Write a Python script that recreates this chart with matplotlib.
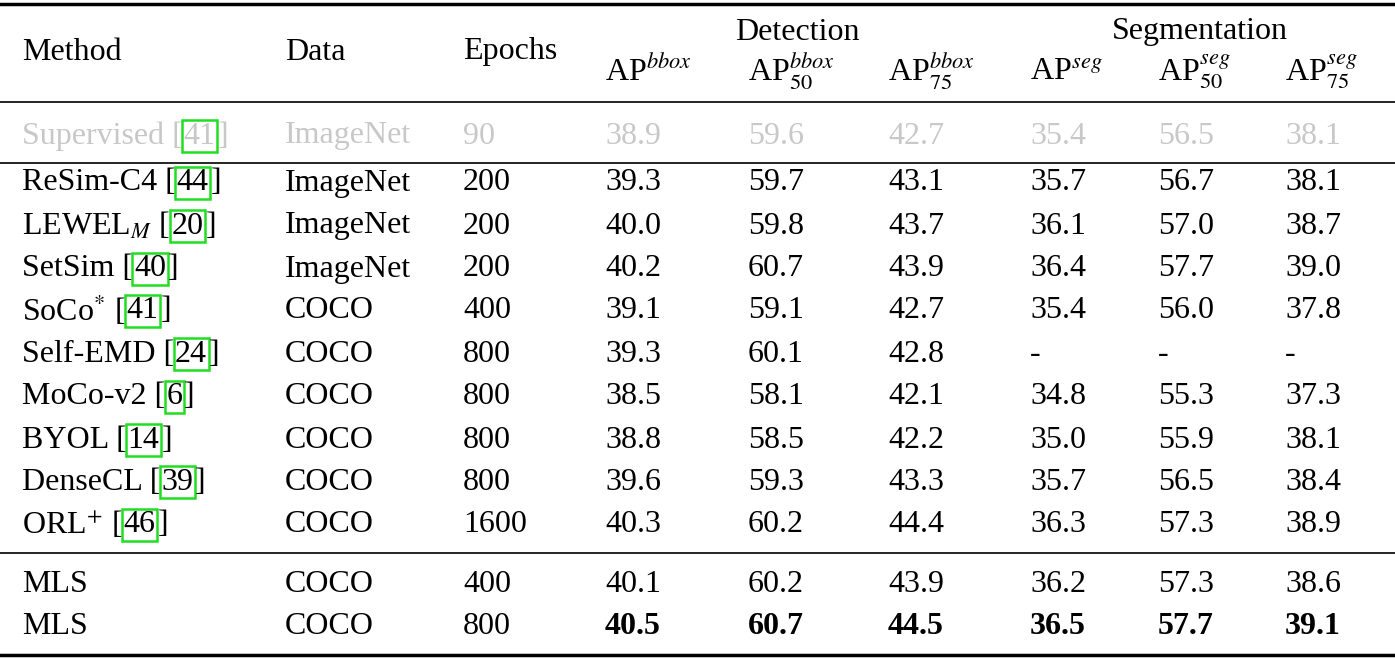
import matplotlib
matplotlib.use("Agg")
import matplotlib.pyplot as plt

plt.rcParams['font.family'] = ['Liberation Serif', 'DejaVu Serif']
plt.rcParams['mathtext.fontset'] = 'stix'

methods = [("Supervised", "", "41"), ("ReSim-C4", "", "44"), ("LEWEL", "$_{M}$", "20"),
           ("SetSim", "", "40"), ("SoCo", "$^{*}$", "41"), ("Self-EMD", "", "24"),
           ("MoCo-v2", "", "6"), ("BYOL", "", "14"), ("DenseCL", "", "39"),
           ("ORL", "$^{+}$", "46"), ("MLS", "", None), ("MLS", "", None)]
data = ["ImageNet", "ImageNet", "ImageNet", "ImageNet", "COCO", "COCO", "COCO", "COCO",
        "COCO", "COCO", "COCO", "COCO"]
epochs = ["90", "200", "200", "200", "400", "800", "800", "800", "800", "1600", "400", "800"]
values = [
    ["38.9", "59.6", "42.7", "35.4", "56.5", "38.1"],
    ["39.3", "59.7", "43.1", "35.7", "56.7", "38.1"],
    ["40.0", "59.8", "43.7", "36.1", "57.0", "38.7"],
    ["40.2", "60.7", "43.9", "36.4", "57.7", "39.0"],
    ["39.1", "59.1", "42.7", "35.4", "56.0", "37.8"],
    ["39.3", "60.1", "42.8", "-", "-", "-"],
    ["38.5", "58.1", "42.1", "34.8", "55.3", "37.3"],
    ["38.8", "58.5", "42.2", "35.0", "55.9", "38.1"],
    ["39.6", "59.3", "43.3", "35.7", "56.5", "38.4"],
    ["40.3", "60.2", "44.4", "36.3", "57.3", "38.9"],
    ["40.1", "60.2", "43.9", "36.2", "57.3", "38.6"],
    ["40.5", "60.7", "44.5", "36.5", "57.7", "39.1"],
]
ap_headers = [r"AP$^{bbox}$", r"AP$^{bbox}_{50}$", r"AP$^{bbox}_{75}$",
              r"AP$^{seg}$", r"AP$^{seg}_{50}$", r"AP$^{seg}_{75}$"]

W, H = 1395, 659
fig = plt.figure(figsize=(W/100, H/100), dpi=100)
ax = fig.add_axes([0, 0, 1, 1])
ax.set_xlim(0, W); ax.set_ylim(H, 0); ax.axis('off')
fs = 23
colx = [22, 285, 463, 605, 748, 888, 1030, 1158, 1285]
rowy = [136, 183, 226, 269, 311, 354, 397, 440, 482, 525, 585, 627]

for y, lw in [(4, 2.5), (102, 1.2), (163, 1.2), (553, 1.2), (655, 2.5)]:
    ax.plot([0, W], [y, y], color='black', lw=lw)

ax.text(797, 32, "Detection", fontsize=fs, ha='center', va='center')
ax.text(1200, 32, "Segmentation", fontsize=fs, ha='center', va='center')
for x, t in zip(colx[:3], ["Method", "Data", "Epochs"]):
    ax.text(x, 52, t, fontsize=fs, va='center')
for x, t in zip(colx[3:], ap_headers):
    ax.text(x, 72, t, fontsize=fs, va='center')

fig.canvas.draw()
r = fig.canvas.get_renderer()
inv = ax.transData.inverted()

def width(t):
    bb = t.get_window_extent(renderer=r)
    (x0, _), (x1, _) = inv.transform([[bb.x0, bb.y0], [bb.x1, bb.y1]])
    return x1 - x0

for i, (m, suf, cite) in enumerate(methods):
    y = rowy[i]
    col = '#c8c8c8' if i == 0 else 'black'
    bold = 'bold' if i == 11 else 'normal'
    s = m + suf + (" [" if cite else "")
    t = ax.text(colx[0], y, s, fontsize=fs, va='center', color=col)
    if cite:
        x = colx[0] + width(t)
        t2 = ax.text(x + 1, y, cite, fontsize=fs, va='center', color=col,
                     bbox=dict(boxstyle='square,pad=0.05', fc='none', ec='#22dd22', lw=1.8))
        x += width(t2) + 3
        ax.text(x, y, "]", fontsize=fs, va='center', color=col)
    ax.text(colx[1], y, data[i], fontsize=fs, va='center', color=col)
    ax.text(colx[2], y, epochs[i], fontsize=fs, va='center', color=col)
    for j, v in enumerate(values[i]):
        ax.text(colx[3+j], y, v, fontsize=fs, va='center', color=col, fontweight=bold)

fig.savefig("out.png", dpi=100)
